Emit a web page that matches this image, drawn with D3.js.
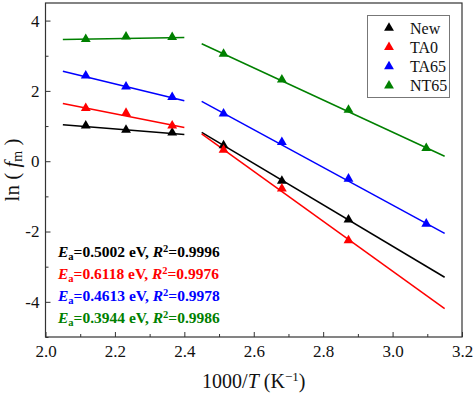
<!DOCTYPE html>
<html>
<head>
<meta charset="utf-8">
<script src="https://cdn.jsdelivr.net/npm/d3@7"></script>
<style>
  body { margin: 0; background: #fff; }
</style>
</head>
<body>
<div id="chart"></div>
<script>
// 1000/T for 200,175,150,125,100,75,50 C
const xLow = [2.116, 2.232, 2.365];
const xHigh = [2.513, 2.681, 2.873, 3.097];

const seriesNames = ["New", "TA0", "TA65", "NT65"];
const colors = ["#000000", "#ff0000", "#0000ff", "#008000"];

// ln(fm)
const newLow = [1.01, 0.89, 0.81];
const newHigh = [0.45, -0.56, -1.66];
const ta0Low = [1.51, 1.37, 1.01];
const ta0High = [0.32, -0.78, -2.25];
const ta65Low = [2.43, 2.12, 1.82];
const ta65High = [1.35, 0.54, -0.50, -1.78];
const nt65Low = [3.47, 3.54, 3.53];
const nt65High = [3.05, 2.32, 1.46, 0.37];

// fitted line ends [x0, y0, x1, y1]
const fitLow = [
  [2.05, 1.04, 2.40, 0.76],
  [2.05, 1.64, 2.40, 0.96],
  [2.05, 2.56, 2.40, 1.72],
  [2.05, 3.46, 2.40, 3.52]
];
const fitHigh = [
  [2.45, 0.82, 3.15, -3.30],
  [2.45, 0.78, 3.15, -4.19],
  [2.45, 1.70, 3.15, -2.05],
  [2.45, 3.34, 3.15, 0.14]
];

const eaValues = ["0.5002", "0.6118", "0.4613", "0.3944"];
const r2Values = ["0.9996", "0.9976", "0.9978", "0.9986"];

const xTicks = [2.0, 2.2, 2.4, 2.6, 2.8, 3.0, 3.2];
const yTicks = [-4, -2, 0, 2, 4];

const width = 474, height = 397;
const margin = {top: 3, right: 12, bottom: 60, left: 45.5};
const serif = "'Liberation Serif', 'Times New Roman', serif";

const svg = d3.select("#chart").append("svg")
  .attr("width", width)
  .attr("height", height);

const x = d3.scaleLinear().domain([2.0, 3.2]).range([margin.left, width - margin.right]);
const y = d3.scaleLinear().domain([-5, 4.5]).range([height - margin.bottom, margin.top]);

// minor ticks
const xMinor = d3.range(2.1, 3.2, 0.2);
const yMinor = d3.range(-5, 4.5, 1).filter(function(d) { return Math.abs(d % 2) === 1; });

const axisColor = "#333";

svg.append("g")
  .attr("transform", "translate(0," + y.range()[0] + ")")
  .call(d3.axisBottom(x).tickValues(xTicks).tickFormat(d3.format(".1f")).tickSizeInner(-5).tickSizeOuter(0).tickPadding(8))
  .call(function(g) {
    g.select(".domain").remove();
    g.selectAll("line").attr("stroke", axisColor);
    g.selectAll("text").attr("font-size", 17).attr("fill", "#111");
  });
svg.append("g")
  .attr("transform", "translate(0," + y.range()[0] + ")")
  .call(d3.axisBottom(x).tickValues(xMinor).tickFormat("").tickSizeInner(-3).tickSizeOuter(0))
  .call(function(g) { g.select(".domain").remove(); g.selectAll("line").attr("stroke", axisColor); });

svg.append("g")
  .attr("transform", "translate(" + x.range()[0] + ",0)")
  .call(d3.axisLeft(y).tickValues(yTicks).tickFormat(function(d) { return String(d); }).tickSizeInner(-5).tickSizeOuter(0).tickPadding(6))
  .call(function(g) {
    g.select(".domain").remove();
    g.selectAll("line").attr("stroke", axisColor);
    g.selectAll("text").attr("font-size", 17).attr("fill", "#111");
  });
svg.append("g")
  .attr("transform", "translate(" + x.range()[0] + ",0)")
  .call(d3.axisLeft(y).tickValues(yMinor).tickFormat("").tickSizeInner(-3).tickSizeOuter(0))
  .call(function(g) { g.select(".domain").remove(); g.selectAll("line").attr("stroke", axisColor); });

// frame
svg.append("rect")
  .attr("x", x.range()[0])
  .attr("y", y.range()[1])
  .attr("width", x.range()[1] - x.range()[0])
  .attr("height", y.range()[0] - y.range()[1])
  .attr("fill", "none")
  .attr("stroke", axisColor)
  .attr("stroke-width", 1.2);

const lowData = [newLow, ta0Low, ta65Low, nt65Low];
const highData = [newHigh, ta0High, ta65High, nt65High];

// fit lines
const fits = fitLow.concat(fitHigh).map(function(f, i) { return {f: f, c: colors[i % 4]}; });
svg.append("g").selectAll("line")
  .data(fits)
  .enter().append("line")
    .attr("x1", function(d) { return x(d.f[0]); })
    .attr("y1", function(d) { return y(d.f[1]); })
    .attr("x2", function(d) { return x(d.f[2]); })
    .attr("y2", function(d) { return y(d.f[3]); })
    .attr("stroke", function(d) { return d.c; })
    .attr("stroke-width", 1.5);

// points
var pts = [];
seriesNames.forEach(function(s, i) {
  lowData[i].forEach(function(v, j) { pts.push({x: xLow[j], y: v, c: colors[i]}); });
  highData[i].forEach(function(v, j) { pts.push({x: xHigh[j], y: v, c: colors[i]}); });
});
const tri = d3.symbol().type(d3.symbolTriangle).size(42);
svg.append("g").selectAll("path")
  .data(pts)
  .enter().append("path")
    .attr("d", tri)
    .attr("transform", function(d) { return "translate(" + x(d.x) + "," + y(d.y) + ")"; })
    .attr("fill", function(d) { return d.c; });

// legend
const legend = svg.append("g");
legend.append("rect")
  .attr("x", 367.5).attr("y", 15.5)
  .attr("width", 82).attr("height", 82)
  .attr("fill", "#fff")
  .attr("stroke", "#777")
  .attr("stroke-width", 1);
seriesNames.forEach(function(s, i) {
  const ly = 28 + i * 19.2;
  legend.append("path")
    .attr("d", tri)
    .attr("transform", "translate(389," + ly + ")")
    .attr("fill", colors[i]);
  legend.append("text")
    .attr("x", 410).attr("y", ly + 5.5)
    .attr("font-size", 16)
    .attr("fill", "#111")
    .text(s);
});

// activation energy labels
const ann = svg.append("g").attr("font-weight", "bold").attr("font-size", 15.5);
eaValues.forEach(function(ea, i) {
  const t = ann.append("text")
    .attr("x", 58)
    .attr("y", 256.7 + i * 22.2)
    .attr("fill", colors[i]);
  t.append("tspan").attr("font-style", "italic").text("E");
  t.append("tspan").attr("font-size", 10.5).attr("dy", 3).text("a");
  t.append("tspan").attr("dy", -3).text("=" + ea + " eV, ");
  t.append("tspan").attr("font-style", "italic").text("R");
  t.append("tspan").attr("font-size", 10.5).attr("dy", -5).text("2");
  t.append("tspan").attr("dy", 5).text("=" + r2Values[i]);
});

// axis titles
const xt = svg.append("text")
  .attr("x", (x.range()[0] + x.range()[1]) / 2)
  .attr("y", 388)
  .attr("text-anchor", "middle")
  .attr("font-size", 20)
  .attr("fill", "#111");
xt.append("tspan").text("1000/");
xt.append("tspan").attr("font-style", "italic").text("T");
xt.append("tspan").text(" (K");
xt.append("tspan").attr("font-size", 13).attr("dy", -7).text("\u22121");
xt.append("tspan").attr("dy", 7).text(")");

const yt = svg.append("text")
  .attr("transform", "translate(19," + (y.range()[0] + y.range()[1]) / 2 + ") rotate(-90)")
  .attr("text-anchor", "middle")
  .attr("font-size", 21)
  .attr("fill", "#111");
yt.append("tspan").text("ln ( ");
yt.append("tspan").attr("font-style", "italic").text("f");
yt.append("tspan").attr("font-size", 14).attr("dy", 3).text("m");
yt.append("tspan").attr("dy", -3).text(" )");

svg.selectAll("text").style("font-family", serif);
</script>
</body>
</html>
